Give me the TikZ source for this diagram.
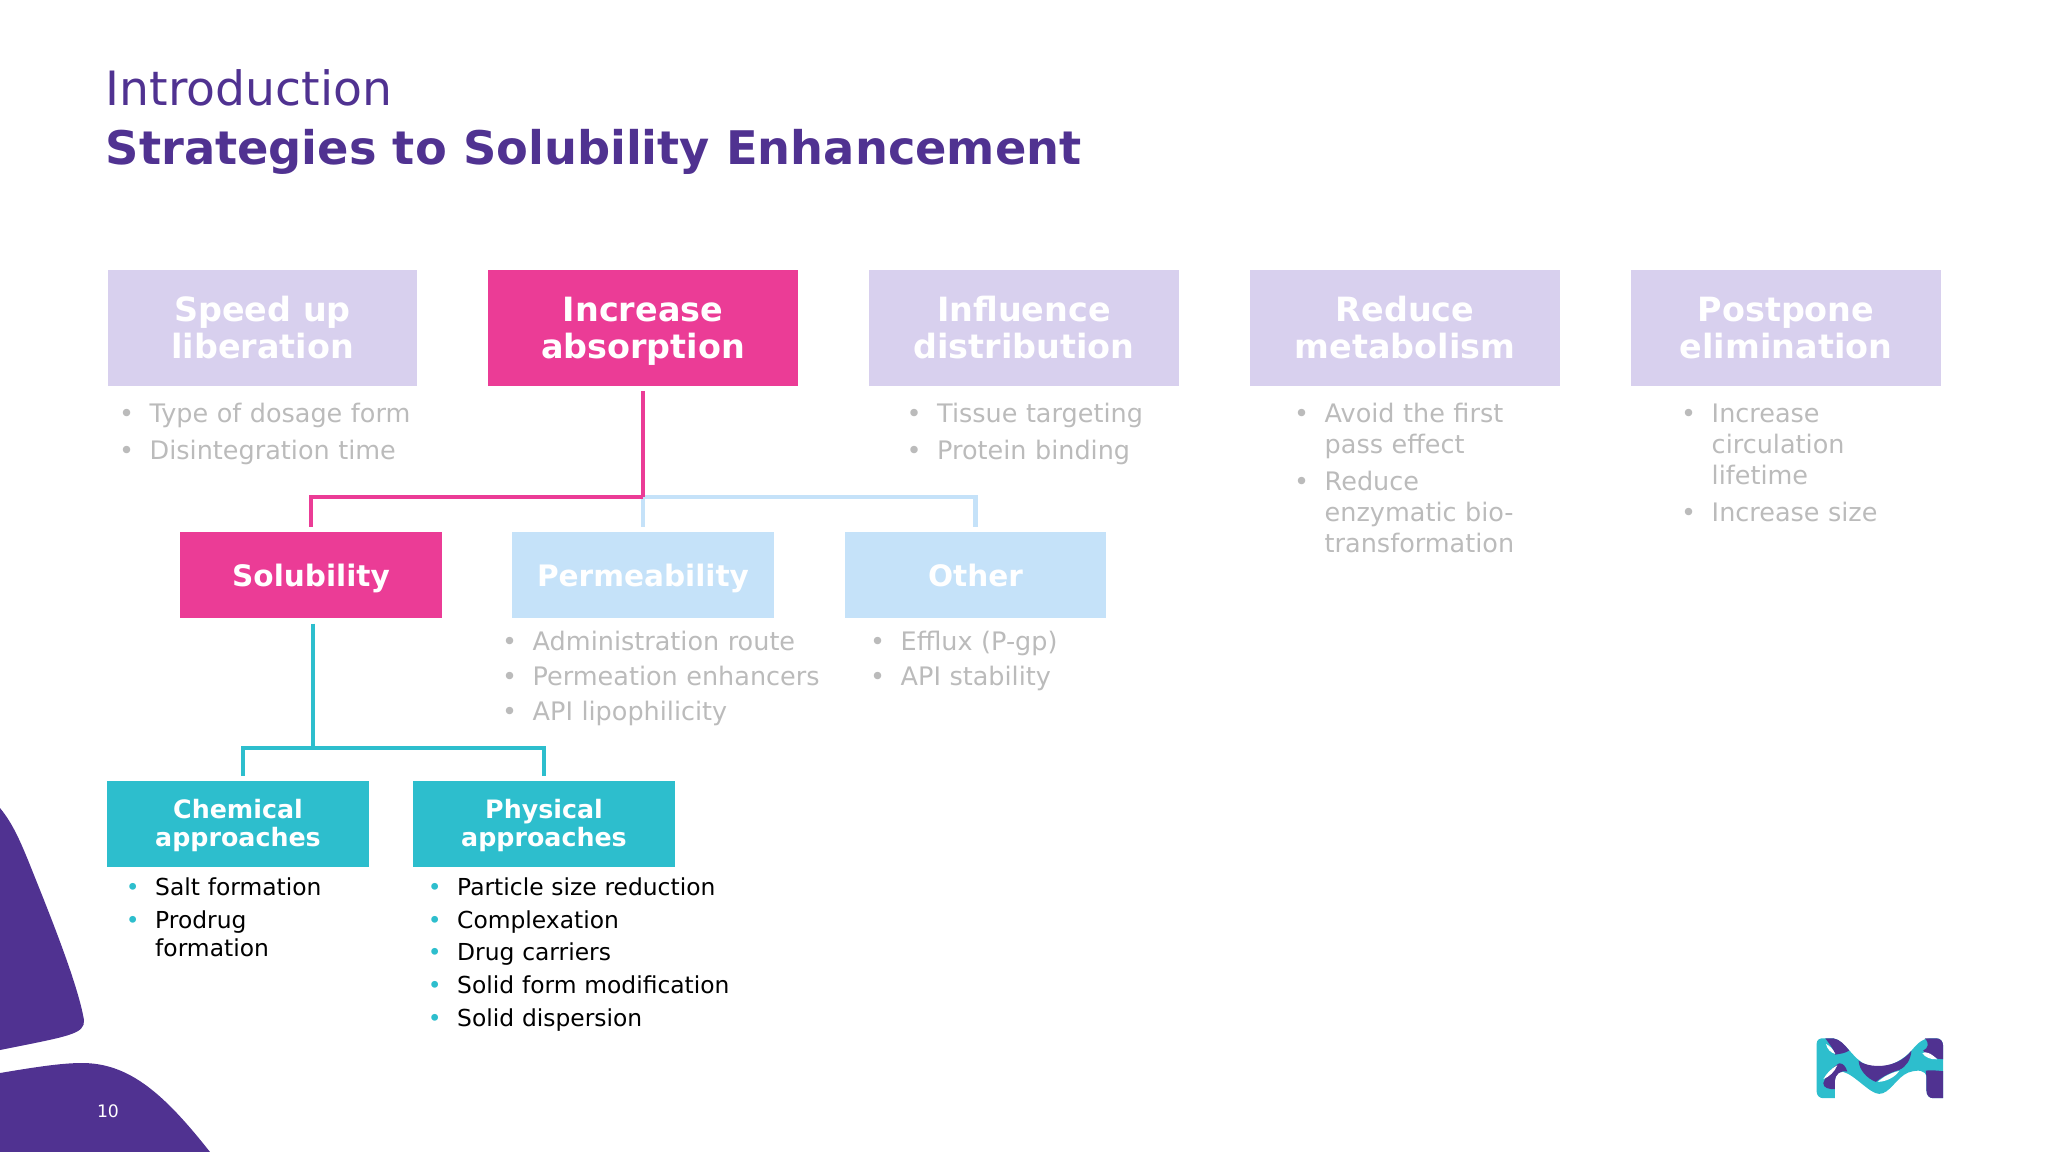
\documentclass[tikz,border=0pt]{standalone}
\usepackage{fontspec}
\setmainfont{DejaVu Sans}
\usepackage{enumitem}
\usepackage{tikz}
\usetikzlibrary{
  arrows.meta,
  positioning
}
\definecolor{mpurple}{HTML}{503291}
\definecolor{mpink}{HTML}{EB3C96}
\definecolor{mteal}{HTML}{2DBECD}
\definecolor{mlilac}{HTML}{D8D0EE}
\definecolor{msky}{HTML}{C5E2F9}
\definecolor{mgrey}{HTML}{BBBBBB}
\newcommand{\itemsin}[3]{\begin{itemize}[nosep,leftmargin=.24cm,labelsep=.155cm,itemsep=#2,label={\textcolor{#1}{\textbullet}}]#3\end{itemize}}
\newcommand{\topline}{\rule{0pt}{.92em}}
\newcommand{\lowline}{\rule{0pt}{.87em}}
\newcommand{\lastdepth}{\vphantom{p}}

\begin{document}
\begin{tikzpicture}[x=0.01cm,y=-0.01cm,
    boxtext/.style={rectangle,inner sep=0pt,align=center,text=white},
    topbox/.style={boxtext,minimum width=3.09cm,minimum height=1.15cm,font=\bfseries\fontsize{9.5}{10.7}\selectfont},
    midbox/.style={boxtext,minimum width=2.61cm,minimum height=.86cm,font=\bfseries\fontsize{8.4}{10.4}\selectfont,execute at begin node={\rule{0pt}{1em}},execute at end node={\vphantom{p}}},
    lowbox/.style={boxtext,fill=mteal,minimum width=2.61cm,minimum height=.86cm,font=\bfseries\fontsize{7.2}{7.9}\selectfont},
    greylist/.style={anchor=north west,inner sep=0pt,text width=4cm,text=mgrey,font=\fontsize{7.25}{8.8}\selectfont},
    blacklist/.style={anchor=north west,inner sep=0pt,text width=4cm,text=black,font=\fontsize{6.65}{8.15}\selectfont},
    pinkline/.style={draw=mpink,line width=1.2pt},
    skyline/.style={draw=msky,line width=1.2pt},
    tealline/.style={draw=mteal,line width=1.2pt}]
  \useasboundingbox (0,0) rectangle (2048,1152);

  % corner shapes
  \fill[mpurple] (0,808) .. controls (14,825) and (22,845) .. (34,875) .. controls (52,920) and (78,985) .. (84,1020) .. controls (85,1034) and (70,1036) .. (0,1050) -- cycle;
  \fill[mpurple] (0,1073) .. controls (30,1068) and (60,1063) .. (82,1063) .. controls (130,1063) and (165,1095) .. (210,1152) -- (0,1152) -- cycle;
  \node[text=white,font=\fontsize{4.9}{6}\selectfont] (30) at (108,1111) {10};

  \node[anchor=base west,inner sep=0pt,text=mpurple,font=\fontsize{13.45}{16}\selectfont] (20) at (105,106) {Introduction};
  \node[anchor=base west,inner sep=0pt,text=mpurple,font=\bfseries\fontsize{13.17}{16}\selectfont] (21) at (105,165) {Strategies to Solubility Enhancement};

  \node[topbox,fill=mlilac] (1) at (262.5,328) {\topline Speed up\\liberation\lastdepth};
  \node[topbox,fill=mpink] (2) at (643,328) {\topline Increase\\absorption};
  \node[topbox,fill=mlilac] (3) at (1024,328) {\topline Influence\\distribution\lastdepth};
  \node[topbox,fill=mlilac] (4) at (1405,328) {\topline Reduce\\metabolism\lastdepth};
  \node[topbox,fill=mlilac] (5) at (1786,328) {\topline Postpone\\elimination\lastdepth};

  \node[midbox,fill=mpink] (6) at (311,575) {Solubility};
  \node[midbox,fill=msky] (7) at (643,575) {Permeability};
  \node[midbox,fill=msky] (8) at (975.5,575) {Other};

  \node[lowbox] (9) at (238,824) {\lowline Chemical\\approaches};
  \node[lowbox] (10) at (544,824) {\lowline Physical\\approaches};

  \coordinate (j1) at (643,497);
  \coordinate (j2) at (313,748);
  \draw[skyline,shorten >=.04cm] (j1) -| (8.north);
  \draw[skyline,shorten >=.04cm] (j1) -- (7.north);
  \draw[pinkline,shorten <=.05cm] (2.south) -- (j1);
  \draw[pinkline,shorten >=.04cm] (j1) -| (6.north);
  \draw[tealline,shorten <=.05cm] (j2 |- 6.south) -- (j2);
  \draw[tealline,shorten >=.04cm] (j2) -| ([xshift=.05cm]9.north);
  \draw[tealline,shorten >=.04cm] (j2) -| (10.north);

  \node[greylist] (11) at (125,391) {\itemsin{mgrey}{.06cm}{\item Type of dosage form \item Disintegration time}};
  \node[greylist] (12) at (912.5,391) {\itemsin{mgrey}{.06cm}{\item Tissue targeting \item Protein binding}};
  \node[greylist] (13) at (1300,391) {\itemsin{mgrey}{.06cm}{\item Avoid the first\\pass effect \item Reduce\\enzymatic bio-\\transformation}};
  \node[greylist] (14) at (1687,391) {\itemsin{mgrey}{.06cm}{\item Increase\\circulation\\lifetime \item Increase size}};
  \node[greylist] (15) at (508,619) {\itemsin{mgrey}{.04cm}{\item Administration route \item Permeation enhancers \item API lipophilicity}};
  \node[greylist] (16) at (876,619) {\itemsin{mgrey}{.04cm}{\item Efflux (P-gp) \item API stability}};
  \node[blacklist] (17) at (130.5,866) {\itemsin{mteal}{.04cm}{\item Salt formation \item Prodrug\\formation}};
  \node[blacklist] (18) at (432.5,866) {\itemsin{mteal}{.04cm}{\item Particle size reduction \item Complexation \item Drug carriers \item Solid form modification \item Solid dispersion}};

  % logo
  \begin{scope}[shift={(1790,1020)},x=0.0033333cm,y=-0.0033333cm]
    \fill[mteal] (80,72) .. controls (80,60) and (88,55) .. (98,55) -- (130,55) .. controls (165,60) and (190,120) .. (230,135) .. controls (280,150) and (330,130) .. (365,92) .. controls (385,68) and (400,55) .. (420,55) -- (440,55) .. controls (452,55) and (460,64) .. (460,78) -- (460,235) -- (430,235) .. controls (418,235) and (410,226) .. (410,212) -- (410,172) .. controls (408,150) and (385,148) .. (355,158) .. controls (320,172) and (300,222) .. (268,222) .. controls (240,222) and (195,165) .. (160,156) .. controls (142,154) and (135,165) .. (135,180) -- (135,235) -- (100,235) .. controls (88,235) and (80,226) .. (80,215) -- cycle;
    \fill[mpurple] (106,55) -- (130,55) .. controls (150,58) and (165,75) .. (178,92) .. controls (165,100) and (150,102) .. (136,104) .. controls (130,85) and (118,72) .. (106,55) -- cycle;
    \fill[mpurple] (100,190) .. controls (108,165) and (130,140) .. (148,130) .. controls (160,130) and (168,140) .. (172,155) .. controls (150,150) and (136,165) .. (135,182) -- (135,208) .. controls (118,208) and (100,205) .. (100,190) -- cycle;
    \fill[mpurple] (206,122) .. controls (235,145) and (320,150) .. (365,92) .. controls (362,120) and (350,140) .. (328,150) .. controls (300,158) and (275,172) .. (258,186) .. controls (230,175) and (208,150) .. (206,122) -- cycle;
    \fill[mpurple] (405,55) -- (440,55) .. controls (452,55) and (460,64) .. (460,78) -- (460,118) .. controls (440,118) and (415,110) .. (400,92) .. controls (415,85) and (420,70) .. (405,55) -- cycle;
    \fill[mpurple] (408,152) .. controls (425,150) and (445,152) .. (460,154) -- (460,235) -- (430,235) .. controls (418,235) and (410,226) .. (410,212) -- (410,172) -- cycle;
    \fill[white] (108,72) .. controls (120,78) and (130,88) .. (136,102) .. controls (122,98) and (112,88) .. (108,72) -- cycle;
    \fill[white] (100,178) .. controls (110,160) and (125,145) .. (142,136) .. controls (135,155) and (118,170) .. (100,178) -- cycle;
    \fill[white] (264,186) .. controls (280,170) and (305,158) .. (328,153) .. controls (315,172) and (290,185) .. (264,186) -- cycle;
    \fill[white] (398,100) .. controls (405,92) and (425,100) .. (442,118) .. controls (425,120) and (405,112) .. (398,100) -- cycle;
  \end{scope}
\end{tikzpicture}
\end{document}
